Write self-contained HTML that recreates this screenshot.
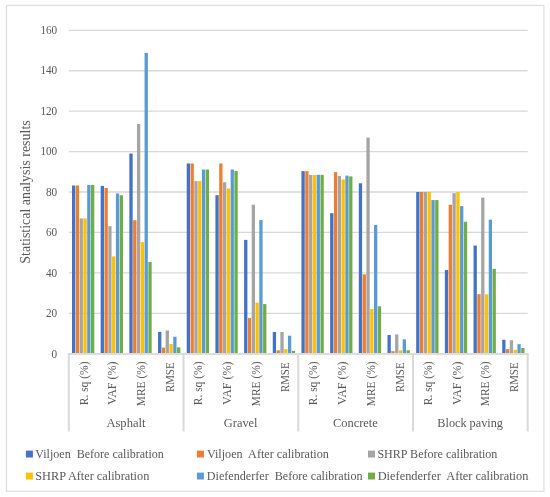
<!DOCTYPE html>
<html lang="en"><head><meta charset="utf-8"><title>Statistical analysis results</title>
<style>html,body{margin:0;padding:0;background:#fff}svg{display:block}text{font-family:'Liberation Serif', serif;fill:#595959}</style></head><body>
<svg width="550" height="497" viewBox="0 0 550 497">
<rect x="0" y="0" width="550" height="497" fill="#fff"/>
<rect x="6.44" y="5.43" width="537.46" height="485.87" fill="#fff" stroke="#DEDEDE" stroke-width="1.2"/>
<line x1="68.8" x2="527.7" y1="313.32" y2="313.32" stroke="#D9D9D9" stroke-width="1.3"/>
<line x1="68.8" x2="527.7" y1="272.89" y2="272.89" stroke="#D9D9D9" stroke-width="1.3"/>
<line x1="68.8" x2="527.7" y1="232.45" y2="232.45" stroke="#D9D9D9" stroke-width="1.3"/>
<line x1="68.8" x2="527.7" y1="192.02" y2="192.02" stroke="#D9D9D9" stroke-width="1.3"/>
<line x1="68.8" x2="527.7" y1="151.59" y2="151.59" stroke="#D9D9D9" stroke-width="1.3"/>
<line x1="68.8" x2="527.7" y1="111.16" y2="111.16" stroke="#D9D9D9" stroke-width="1.3"/>
<line x1="68.8" x2="527.7" y1="70.73" y2="70.73" stroke="#D9D9D9" stroke-width="1.3"/>
<line x1="68.8" x2="527.7" y1="30.29" y2="30.29" stroke="#D9D9D9" stroke-width="1.3"/>
<rect x="72.00" y="185.50" width="3.30" height="168.20" fill="#4472C4"/>
<rect x="75.80" y="185.50" width="3.30" height="168.20" fill="#ED7D31"/>
<rect x="79.60" y="218.45" width="3.30" height="135.25" fill="#A5A5A5"/>
<rect x="83.40" y="218.45" width="3.30" height="135.25" fill="#FFC000"/>
<rect x="87.20" y="184.90" width="3.30" height="168.80" fill="#5B9BD5"/>
<rect x="91.00" y="184.90" width="3.30" height="168.80" fill="#70AD47"/>
<rect x="100.68" y="185.91" width="3.30" height="167.79" fill="#4472C4"/>
<rect x="104.48" y="187.93" width="3.30" height="165.77" fill="#ED7D31"/>
<rect x="108.28" y="226.14" width="3.30" height="127.56" fill="#A5A5A5"/>
<rect x="112.08" y="256.46" width="3.30" height="97.24" fill="#FFC000"/>
<rect x="115.88" y="193.39" width="3.30" height="160.31" fill="#5B9BD5"/>
<rect x="119.68" y="195.21" width="3.30" height="158.49" fill="#70AD47"/>
<rect x="129.36" y="153.56" width="3.30" height="200.14" fill="#4472C4"/>
<rect x="133.16" y="220.27" width="3.30" height="133.43" fill="#ED7D31"/>
<rect x="136.96" y="124.05" width="3.30" height="229.65" fill="#A5A5A5"/>
<rect x="140.76" y="242.11" width="3.30" height="111.59" fill="#FFC000"/>
<rect x="144.56" y="52.89" width="3.30" height="300.81" fill="#5B9BD5"/>
<rect x="148.36" y="261.92" width="3.30" height="91.78" fill="#70AD47"/>
<rect x="158.04" y="331.87" width="3.30" height="21.83" fill="#4472C4"/>
<rect x="161.84" y="347.64" width="3.30" height="6.06" fill="#ED7D31"/>
<rect x="165.64" y="330.45" width="3.30" height="23.25" fill="#A5A5A5"/>
<rect x="169.44" y="344.00" width="3.30" height="9.70" fill="#FFC000"/>
<rect x="173.24" y="336.72" width="3.30" height="16.98" fill="#5B9BD5"/>
<rect x="177.04" y="347.33" width="3.30" height="6.37" fill="#70AD47"/>
<rect x="186.72" y="163.47" width="3.30" height="190.23" fill="#4472C4"/>
<rect x="190.53" y="163.47" width="3.30" height="190.23" fill="#ED7D31"/>
<rect x="194.32" y="181.06" width="3.30" height="172.64" fill="#A5A5A5"/>
<rect x="198.12" y="181.06" width="3.30" height="172.64" fill="#FFC000"/>
<rect x="201.92" y="169.53" width="3.30" height="184.17" fill="#5B9BD5"/>
<rect x="205.72" y="169.53" width="3.30" height="184.17" fill="#70AD47"/>
<rect x="215.41" y="195.21" width="3.30" height="158.49" fill="#4472C4"/>
<rect x="219.21" y="163.47" width="3.30" height="190.23" fill="#ED7D31"/>
<rect x="223.01" y="182.27" width="3.30" height="171.43" fill="#A5A5A5"/>
<rect x="226.81" y="188.54" width="3.30" height="165.16" fill="#FFC000"/>
<rect x="230.61" y="169.53" width="3.30" height="184.17" fill="#5B9BD5"/>
<rect x="234.41" y="170.95" width="3.30" height="182.75" fill="#70AD47"/>
<rect x="244.09" y="239.88" width="3.30" height="113.82" fill="#4472C4"/>
<rect x="247.89" y="318.02" width="3.30" height="35.68" fill="#ED7D31"/>
<rect x="251.69" y="204.71" width="3.30" height="148.99" fill="#A5A5A5"/>
<rect x="255.49" y="302.65" width="3.30" height="51.05" fill="#FFC000"/>
<rect x="259.29" y="220.07" width="3.30" height="133.63" fill="#5B9BD5"/>
<rect x="263.09" y="304.07" width="3.30" height="49.63" fill="#70AD47"/>
<rect x="272.77" y="331.97" width="3.30" height="21.73" fill="#4472C4"/>
<rect x="276.57" y="350.36" width="3.30" height="3.34" fill="#ED7D31"/>
<rect x="280.37" y="331.97" width="3.30" height="21.73" fill="#A5A5A5"/>
<rect x="284.17" y="349.15" width="3.30" height="4.55" fill="#FFC000"/>
<rect x="287.97" y="335.71" width="3.30" height="17.99" fill="#5B9BD5"/>
<rect x="291.77" y="350.87" width="3.30" height="2.83" fill="#70AD47"/>
<rect x="301.45" y="171.15" width="3.30" height="182.55" fill="#4472C4"/>
<rect x="305.25" y="171.15" width="3.30" height="182.55" fill="#ED7D31"/>
<rect x="309.05" y="174.99" width="3.30" height="178.71" fill="#A5A5A5"/>
<rect x="312.85" y="174.99" width="3.30" height="178.71" fill="#FFC000"/>
<rect x="316.65" y="174.79" width="3.30" height="178.91" fill="#5B9BD5"/>
<rect x="320.45" y="174.79" width="3.30" height="178.91" fill="#70AD47"/>
<rect x="330.13" y="213.20" width="3.30" height="140.50" fill="#4472C4"/>
<rect x="333.93" y="172.16" width="3.30" height="181.54" fill="#ED7D31"/>
<rect x="337.73" y="176.00" width="3.30" height="177.70" fill="#A5A5A5"/>
<rect x="341.53" y="179.44" width="3.30" height="174.26" fill="#FFC000"/>
<rect x="345.33" y="175.60" width="3.30" height="178.10" fill="#5B9BD5"/>
<rect x="349.13" y="176.41" width="3.30" height="177.29" fill="#70AD47"/>
<rect x="358.81" y="183.28" width="3.30" height="170.42" fill="#4472C4"/>
<rect x="362.61" y="274.35" width="3.30" height="79.35" fill="#ED7D31"/>
<rect x="366.41" y="137.59" width="3.30" height="216.11" fill="#A5A5A5"/>
<rect x="370.21" y="309.12" width="3.30" height="44.58" fill="#FFC000"/>
<rect x="374.01" y="224.92" width="3.30" height="128.78" fill="#5B9BD5"/>
<rect x="377.81" y="306.29" width="3.30" height="47.41" fill="#70AD47"/>
<rect x="387.49" y="335.00" width="3.30" height="18.70" fill="#4472C4"/>
<rect x="391.29" y="351.17" width="3.30" height="2.53" fill="#ED7D31"/>
<rect x="395.09" y="334.49" width="3.30" height="19.21" fill="#A5A5A5"/>
<rect x="398.89" y="350.47" width="3.30" height="3.23" fill="#FFC000"/>
<rect x="402.69" y="339.35" width="3.30" height="14.35" fill="#5B9BD5"/>
<rect x="406.49" y="350.26" width="3.30" height="3.44" fill="#70AD47"/>
<rect x="416.18" y="191.97" width="3.30" height="161.73" fill="#4472C4"/>
<rect x="419.98" y="191.97" width="3.30" height="161.73" fill="#ED7D31"/>
<rect x="423.78" y="191.97" width="3.30" height="161.73" fill="#A5A5A5"/>
<rect x="427.57" y="191.97" width="3.30" height="161.73" fill="#FFC000"/>
<rect x="431.38" y="200.06" width="3.30" height="153.64" fill="#5B9BD5"/>
<rect x="435.18" y="200.06" width="3.30" height="153.64" fill="#70AD47"/>
<rect x="444.86" y="270.01" width="3.30" height="83.69" fill="#4472C4"/>
<rect x="448.66" y="204.71" width="3.30" height="148.99" fill="#ED7D31"/>
<rect x="452.46" y="193.18" width="3.30" height="160.52" fill="#A5A5A5"/>
<rect x="456.26" y="191.97" width="3.30" height="161.73" fill="#FFC000"/>
<rect x="460.06" y="206.12" width="3.30" height="147.58" fill="#5B9BD5"/>
<rect x="463.86" y="221.69" width="3.30" height="132.01" fill="#70AD47"/>
<rect x="473.54" y="245.54" width="3.30" height="108.16" fill="#4472C4"/>
<rect x="477.34" y="294.16" width="3.30" height="59.54" fill="#ED7D31"/>
<rect x="481.14" y="197.63" width="3.30" height="156.07" fill="#A5A5A5"/>
<rect x="484.94" y="294.37" width="3.30" height="59.33" fill="#FFC000"/>
<rect x="488.74" y="219.67" width="3.30" height="134.03" fill="#5B9BD5"/>
<rect x="492.54" y="268.79" width="3.30" height="84.91" fill="#70AD47"/>
<rect x="502.22" y="339.75" width="3.30" height="13.95" fill="#4472C4"/>
<rect x="506.02" y="349.15" width="3.30" height="4.55" fill="#ED7D31"/>
<rect x="509.82" y="340.26" width="3.30" height="13.44" fill="#A5A5A5"/>
<rect x="513.62" y="349.86" width="3.30" height="3.84" fill="#FFC000"/>
<rect x="517.42" y="344.20" width="3.30" height="9.50" fill="#5B9BD5"/>
<rect x="521.22" y="348.04" width="3.30" height="5.66" fill="#70AD47"/>
<line x1="67.8" x2="528.7" y1="353.90" y2="353.90" stroke="#DDDDDD" stroke-width="2"/>
<line x1="68.80" x2="68.80" y1="353.70" y2="431.5" stroke="#D9D9D9" stroke-width="2"/>
<line x1="183.53" x2="183.53" y1="353.70" y2="431.5" stroke="#D9D9D9" stroke-width="2"/>
<line x1="298.25" x2="298.25" y1="353.70" y2="431.5" stroke="#D9D9D9" stroke-width="2"/>
<line x1="412.98" x2="412.98" y1="353.70" y2="431.5" stroke="#D9D9D9" stroke-width="2"/>
<line x1="527.70" x2="527.70" y1="353.70" y2="431.5" stroke="#D9D9D9" stroke-width="2"/>
<text x="51.60" y="358.00" font-size="12.5" textLength="5.6" lengthAdjust="spacingAndGlyphs">0</text>
<text x="46.00" y="316.97" font-size="12.5" textLength="11.2" lengthAdjust="spacingAndGlyphs">20</text>
<text x="46.00" y="276.54" font-size="12.5" textLength="11.2" lengthAdjust="spacingAndGlyphs">40</text>
<text x="46.00" y="236.10" font-size="12.5" textLength="11.2" lengthAdjust="spacingAndGlyphs">60</text>
<text x="46.00" y="195.67" font-size="12.5" textLength="11.2" lengthAdjust="spacingAndGlyphs">80</text>
<text x="40.40" y="155.24" font-size="12.5" textLength="16.8" lengthAdjust="spacingAndGlyphs">100</text>
<text x="40.40" y="114.81" font-size="12.5" textLength="16.8" lengthAdjust="spacingAndGlyphs">120</text>
<text x="40.40" y="74.38" font-size="12.5" textLength="16.8" lengthAdjust="spacingAndGlyphs">140</text>
<text x="40.40" y="33.94" font-size="12.5" textLength="16.8" lengthAdjust="spacingAndGlyphs">160</text>
<text transform="translate(30.3,263.7) rotate(-90)" font-size="13.6" textLength="143.4" lengthAdjust="spacingAndGlyphs">Statistical analysis results</text>
<text transform="translate(87.74,405.30) rotate(-90)" font-size="12" textLength="43.8" lengthAdjust="spacingAndGlyphs">R. sq (%)</text>
<text transform="translate(116.42,404.90) rotate(-90)" font-size="12" textLength="43.4" lengthAdjust="spacingAndGlyphs">VAF (%)</text>
<text transform="translate(145.10,406.20) rotate(-90)" font-size="12" textLength="44.7" lengthAdjust="spacingAndGlyphs">MRE (%)</text>
<text transform="translate(174.08,392.10) rotate(-90)" font-size="12" textLength="29.7" lengthAdjust="spacingAndGlyphs">RMSE</text>
<text transform="translate(202.47,405.30) rotate(-90)" font-size="12" textLength="43.8" lengthAdjust="spacingAndGlyphs">R. sq (%)</text>
<text transform="translate(231.15,404.90) rotate(-90)" font-size="12" textLength="43.4" lengthAdjust="spacingAndGlyphs">VAF (%)</text>
<text transform="translate(259.83,406.20) rotate(-90)" font-size="12" textLength="44.7" lengthAdjust="spacingAndGlyphs">MRE (%)</text>
<text transform="translate(288.81,392.10) rotate(-90)" font-size="12" textLength="29.7" lengthAdjust="spacingAndGlyphs">RMSE</text>
<text transform="translate(317.19,405.30) rotate(-90)" font-size="12" textLength="43.8" lengthAdjust="spacingAndGlyphs">R. sq (%)</text>
<text transform="translate(345.87,404.90) rotate(-90)" font-size="12" textLength="43.4" lengthAdjust="spacingAndGlyphs">VAF (%)</text>
<text transform="translate(374.55,406.20) rotate(-90)" font-size="12" textLength="44.7" lengthAdjust="spacingAndGlyphs">MRE (%)</text>
<text transform="translate(403.53,392.10) rotate(-90)" font-size="12" textLength="29.7" lengthAdjust="spacingAndGlyphs">RMSE</text>
<text transform="translate(431.92,405.30) rotate(-90)" font-size="12" textLength="43.8" lengthAdjust="spacingAndGlyphs">R. sq (%)</text>
<text transform="translate(460.60,404.90) rotate(-90)" font-size="12" textLength="43.4" lengthAdjust="spacingAndGlyphs">VAF (%)</text>
<text transform="translate(489.28,406.20) rotate(-90)" font-size="12" textLength="44.7" lengthAdjust="spacingAndGlyphs">MRE (%)</text>
<text transform="translate(518.26,392.10) rotate(-90)" font-size="12" textLength="29.7" lengthAdjust="spacingAndGlyphs">RMSE</text>
<text x="106.41" y="427.4" font-size="12.2" textLength="39.1" lengthAdjust="spacingAndGlyphs">Asphalt</text>
<text x="223.84" y="427.4" font-size="12.2" textLength="33.7" lengthAdjust="spacingAndGlyphs">Gravel</text>
<text x="332.96" y="427.4" font-size="12.2" textLength="44.9" lengthAdjust="spacingAndGlyphs">Concrete</text>
<text x="437.39" y="427.4" font-size="12.2" textLength="65.5" lengthAdjust="spacingAndGlyphs">Block paving</text>
<rect x="25.9" y="450.6" width="7" height="6.9" fill="#4472C4"/>
<text xml:space="preserve" x="35.3" y="457.75" font-size="12" textLength="128.5" lengthAdjust="spacingAndGlyphs">Viljoen  Before calibration</text>
<rect x="196.9" y="450.6" width="7" height="6.9" fill="#ED7D31"/>
<text xml:space="preserve" x="206.9" y="457.75" font-size="12" textLength="122.0" lengthAdjust="spacingAndGlyphs">Viljoen  After calibration</text>
<rect x="368.0" y="450.6" width="7" height="6.9" fill="#A5A5A5"/>
<text xml:space="preserve" x="377.4" y="457.75" font-size="12" textLength="120.0" lengthAdjust="spacingAndGlyphs">SHRP Before calibration</text>
<rect x="25.9" y="472.6" width="7" height="6.9" fill="#FFC000"/>
<text xml:space="preserve" x="35.3" y="479.75" font-size="12" textLength="114.0" lengthAdjust="spacingAndGlyphs">SHRP After calibration</text>
<rect x="196.9" y="472.6" width="7" height="6.9" fill="#5B9BD5"/>
<text xml:space="preserve" x="206.8" y="479.75" font-size="12" textLength="155.8" lengthAdjust="spacingAndGlyphs">Diefenderfer  Before calibration</text>
<rect x="368.0" y="472.6" width="7" height="6.9" fill="#70AD47"/>
<text xml:space="preserve" x="377.7" y="479.75" font-size="12" textLength="150.7" lengthAdjust="spacingAndGlyphs">Diefenderfer  After calibration</text>
</svg></body></html>
